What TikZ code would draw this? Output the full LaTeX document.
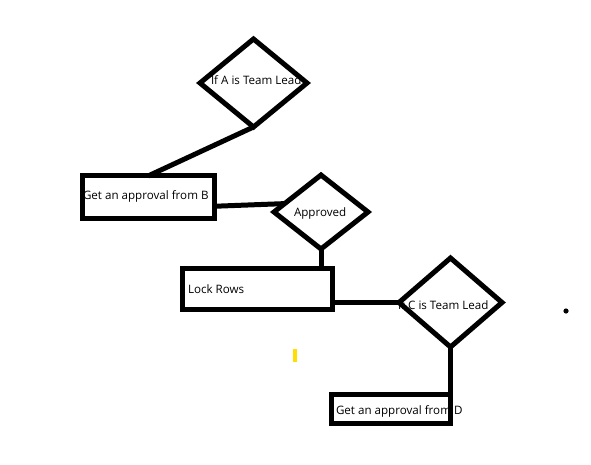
\documentclass[tikz,border=0pt]{standalone}
\usepackage{fontspec}
\setmainfont{Open Sans}
\usepackage{tikz}
\usetikzlibrary{shapes.geometric, positioning}
\usepackage{xcolor}
\definecolor{marker}{RGB}{255,222,0}

\begin{document}
\begin{tikzpicture}[x=1pt,y=-1pt,line width=5pt,inner sep=0pt,outer sep=0pt,
                    font=\fontsize{11.6}{13}\selectfont]
  \tikzstyle{decision}=[diamond,draw=black,inner sep=0pt,outer sep=0pt]
  \tikzstyle{task}=[rectangle,draw=black,inner sep=0pt,outer sep=0pt]
  \tikzstyle{caption}=[text=black,anchor=west,inner sep=0pt]
  \useasboundingbox (0,0) rectangle (591,465);

  % texts first, the shapes are drawn over them
  \node[caption] (tA)    at (211,80)  {If A is Team Lead};
  \node[caption] (tB)    at (83,196)  {Get an approval from B};
  \node[caption] (tAp)   at (294,213) {Approved};
  \node[caption] (tLock) at (188,289) {Lock Rows};
  \node[caption] (tC)    at (398,305) {If C is Team Lead};
  \node[caption] (tD)    at (336,411) {Get an approval from D};

  \node[decision, minimum width=107pt, minimum height=88pt] (dA)   at (253.5,83) {};
  \node[task, minimum width=132pt, minimum height=42pt]     (boxB) at (148,197)  {};
  \node[decision, minimum width=94pt, minimum height=74pt]  (dAp)  at (321,212)  {};
  \node[task, minimum width=150pt, minimum height=41pt]     (lock) at (257,288.5) {};
  \node[decision, minimum width=103pt, minimum height=89pt] (dC)   at (450.5,302.5) {};
  \node[task, minimum width=119pt, minimum height=29pt]     (boxD) at (390.5,408.5) {};

  \draw (dA.south) -- (boxB.north);
  \draw (boxB.-8) -- (dAp.167);
  \draw (dAp.south) -- (dAp.south |- lock.north);
  \draw (lock.east |- dC.west) -- (dC.west);
  \draw (dC.south) -- (dC.south |- boxD.north);

  % stray marks
  \fill (566,311) circle (2.6pt);
  \fill[marker] (293,349) rectangle (297,362);
\end{tikzpicture}
\end{document}
